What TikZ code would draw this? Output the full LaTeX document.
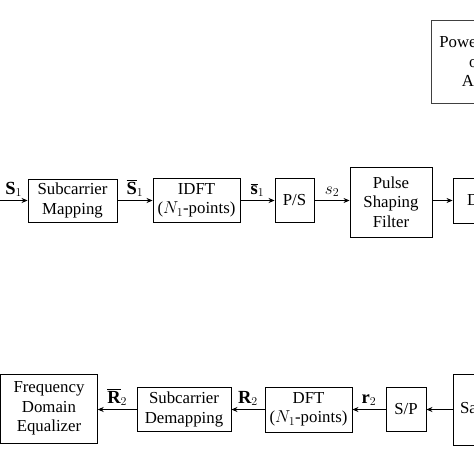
\documentclass[tikz,border=0pt]{standalone}
\usepackage{fontspec}
\setmainfont{Liberation Serif}
\usetikzlibrary{arrows.meta}
\begin{document}
\begin{tikzpicture}[x=1pt,y=-1pt,
  blk/.style={draw, line width=0.9pt, inner sep=0pt, align=center, font=\fontsize{16.8}{19.5}\selectfont},
  conn/.style={-{Stealth[length=6pt,width=5pt]}, line width=0.7pt},
  lbl/.style={font=\fontsize{18.5}{21}\selectfont, inner sep=3.5pt}]
\useasboundingbox (0,0) rectangle (474,474);
\clip (0,0) rectangle (474,474);
\fill[white] (0,0) rectangle (474,474);
% top-right box
\node[blk, draw=black!75, minimum width=90pt, minimum height=83pt] (pa) at (476,61.5) {Power Ctrl\\of\\APs};
% row 1
\node[blk, minimum width=89pt, minimum height=43pt] (sm) at (72.5,200.5) {Subcarrier\\Mapping};
\node[blk, minimum width=87pt, minimum height=44pt] (idft) at (196.5,200.5) {IDFT\\($N_1$-points)};
\node[blk, minimum width=39pt, minimum height=44pt] (ps) at (294.5,200.5) {P/S};
\node[blk, minimum width=82pt, minimum height=70pt] (psf) at (391,202) {Pulse\\Shaping\\Filter};
\node[blk, minimum width=57pt, minimum height=45pt] (da) at (481.5,200.5) {D/A};
\coordinate (in) at (0,200.5);
\draw[conn] (in) -- (sm) node[midway,above,lbl]{$\mathbf{S}_1$};
\draw[conn] (sm) -- (idft) node[midway,above,lbl]{$\overline{\mathbf{S}}_1$};
\draw[conn] (idft) -- (ps) node[midway,above,lbl]{$\overline{\mathbf{s}}_1$};
\draw[conn] (ps) -- (ps -| psf.west) node[midway,above,lbl]{$s_2$};
\draw[conn] (psf.east |- ps) -- (ps -| da.west);
% row 2
\node[blk, minimum width=96.5pt, minimum height=69pt] (fde) at (49,408.5) {Frequency\\Domain\\Equalizer};
\node[blk, minimum width=94pt, minimum height=44pt] (sd) at (184,409.5) {Subcarrier\\Demapping};
\node[blk, minimum width=87pt, minimum height=45pt] (dft) at (308.5,409.5) {DFT\\($N_1$-points)};
\node[blk, minimum width=40pt, minimum height=44pt] (sp) at (406,409.5) {S/P};
\node[blk, minimum width=70pt, minimum height=71pt] (smp) at (488,409.5) {Sampler};
\draw[conn] (smp) -- (sp);
\draw[conn] (sp) -- (dft) node[midway,above,lbl]{$\mathbf{r}_2$};
\draw[conn] (dft) -- (sd) node[midway,above,lbl]{$\mathbf{R}_2$};
\draw[conn] (sd) -- (sd -| fde.east) node[midway,above,lbl]{$\overline{\mathbf{R}}_2$};
\end{tikzpicture}
\end{document}
